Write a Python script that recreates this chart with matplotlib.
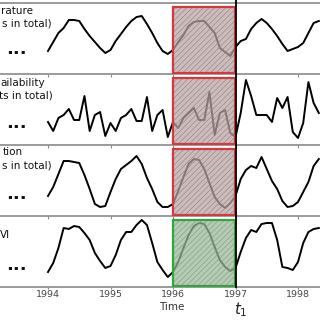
import numpy as np
import matplotlib
matplotlib.use("Agg")
import matplotlib.pyplot as plt
from matplotlib.patches import Rectangle
import matplotlib.transforms as mtransforms

# ---------------- data ----------------
start_year = 1994
years = [1994, 1995, 1996, 1997, 1998]
window = (1996, 1997)
t1 = 1997

temperature = [23, 32, 41, 46, 54, 54, 53, 45, 38, 32, 26, 21,
               24, 33, 40, 47, 53, 57, 58, 50, 41, 31, 23, 20,
               24, 32, 39, 48, 52, 53, 53, 47, 41, 26, 22, 18,
               27, 33, 35, 45, 51, 55, 51, 45, 38, 30, 23, 25,
               27, 31, 41, 51, 53]
water = [23, 14, 27, 30, 36, 25, 25, 49, 14, 30, 33, 9,
         22, 14, 27, 30, 36, 24, 24, 48, 14, 30, 35, 8,
         23, 17, 27, 32, 37, 25, 25, 53, 10, 32, 35, 12,
         8, 32, 65, 49, 30, 30, 30, 23, 47, 37, 48, 13,
         7, 22, 63, 42, 32]
precip = [20, 29, 42, 55, 55, 54, 53, 41, 27, 12, 9, 10,
          24, 37, 47, 51, 55, 60, 52, 38, 27, 14, 9, 9,
          12, 25, 39, 52, 57, 56, 47, 33, 19, 12, 8, 13,
          20, 37, 46, 50, 48, 59, 47, 35, 27, 15, 9, 10,
          14, 24, 34, 50, 57]
ndvi = [15, 24, 39, 59, 58, 61, 60, 54, 47, 34, 26, 19,
        21, 32, 47, 55, 55, 62, 67, 62, 44, 25, 17, 10,
        15, 25, 39, 52, 61, 64, 63, 54, 40, 27, 20, 16,
        19, 35, 49, 57, 55, 63, 64, 64, 47, 20, 19, 17,
        25, 44, 55, 58, 59]

series = [temperature, water, precip, ndvi]
# visible parts of the (cropped) panel labels
label_top = ["rature", "ailability", "tion", "VI"]
label_bot = ["s in total)", "ts in total)", "s in total)", None]
window_edge = ["#d9363e", "#d9363e", "#d9363e", "#2ea83a"]
window_fill = ["#b9a2a2", "#b9a2a2", "#b9a2a2", "#98b898"]

# ---------------- layout ----------------
W = H = 320
fig = plt.figure(figsize=(3.2, 3.2), dpi=100)

x0_year = 1994 - 48 / 62.5
x1_year = 1994 + 272 / 62.5

panel_px = [(3, 74), (74, 145), (145, 216), (216, 287)]
top_text_y = [11, 83, 152, 235]
bot_text_y = [24, 96, 165, None]
top_text_x = [33, 45, 23, 10]
bot_text_x = [52, 53, 52, None]
dots_y = [49, 123, 194, 265]

t = start_year + np.arange(len(temperature)) / 12.0

plt.rcParams["hatch.linewidth"] = 0.4

for i, (ytop, ybot) in enumerate(panel_px):
    ax = fig.add_axes([0, 1 - ybot / H, 1, (ybot - ytop) / H])
    ax.plot(t, series[i], color="black", lw=1.4, zorder=2)
    ax.set_xlim(x0_year, x1_year)
    ax.set_ylim(0, 71)
    ax.set_yticks([])
    for s in ["left", "right"]:
        ax.spines[s].set_visible(False)
    ax.spines["top"].set_visible(i == 0)
    ax.spines["top"].set_color("#8a8a8a")
    ax.spines["bottom"].set_color("#8a8a8a")
    ax.spines["bottom"].set_linewidth(1.2)
    ax.spines["top"].set_linewidth(1.2)
    ax.set_xticks(years)
    if i < 3:
        ax.tick_params(axis="x", length=2, color="#8a8a8a", labelbottom=False)
    else:
        ax.tick_params(axis="x", length=1.5, color="#8a8a8a", labelsize=6.8,
                       labelcolor="#444444", pad=1.0)
    ax.patch.set_alpha(0)

    trans = mtransforms.blended_transform_factory(ax.transData, ax.transAxes)
    y_lo = 0.02
    y_hi = 0.95
    fillrect = Rectangle((window[0], y_lo), window[1] - window[0], y_hi - y_lo,
                         transform=trans, facecolor=window_fill[i], alpha=0.72,
                         edgecolor="none", zorder=3)
    ax.add_patch(fillrect)
    hatch = Rectangle((window[0], y_lo), window[1] - window[0], y_hi - y_lo,
                      transform=trans, facecolor="none",
                      edgecolor="#8e8080" if i < 3 else "#7f9a7f",
                      hatch="//////", lw=0, zorder=3)
    ax.add_patch(hatch)
    edge = Rectangle((window[0], y_lo), window[1] - window[0], y_hi - y_lo,
                     transform=trans, facecolor="none", edgecolor=window_edge[i],
                     lw=1.6, zorder=4)
    ax.add_patch(edge)
    ax.axvline(t1, color="black", lw=1.3, zorder=5, clip_on=False,
               ymin=0, ymax=1 if i > 0 else 1 + 3 / (ybot - ytop))


def fx(px):
    return px / W


def fy(py):
    return 1 - py / H


for i in range(4):
    fig.text(fx(top_text_x[i]), fy(top_text_y[i]), label_top[i], ha="right",
             va="center", fontsize=7.5, color="#111111")
    if label_bot[i]:
        fig.text(fx(bot_text_x[i]), fy(bot_text_y[i]), label_bot[i], ha="right",
                 va="center", fontsize=7.5, color="#111111")
    fig.text(fx(16), fy(dots_y[i]), "...", ha="center", va="center",
             fontsize=13, fontweight="bold", color="#111111")

fig.text(fx(172), fy(307), "Time", ha="center", va="center", fontsize=7.5,
         color="#333333")
fig.text(fx(241), fy(319), "$t_1$", ha="center", va="bottom", fontsize=11,
         color="#222222")

fig.savefig("out.png", dpi=100)
